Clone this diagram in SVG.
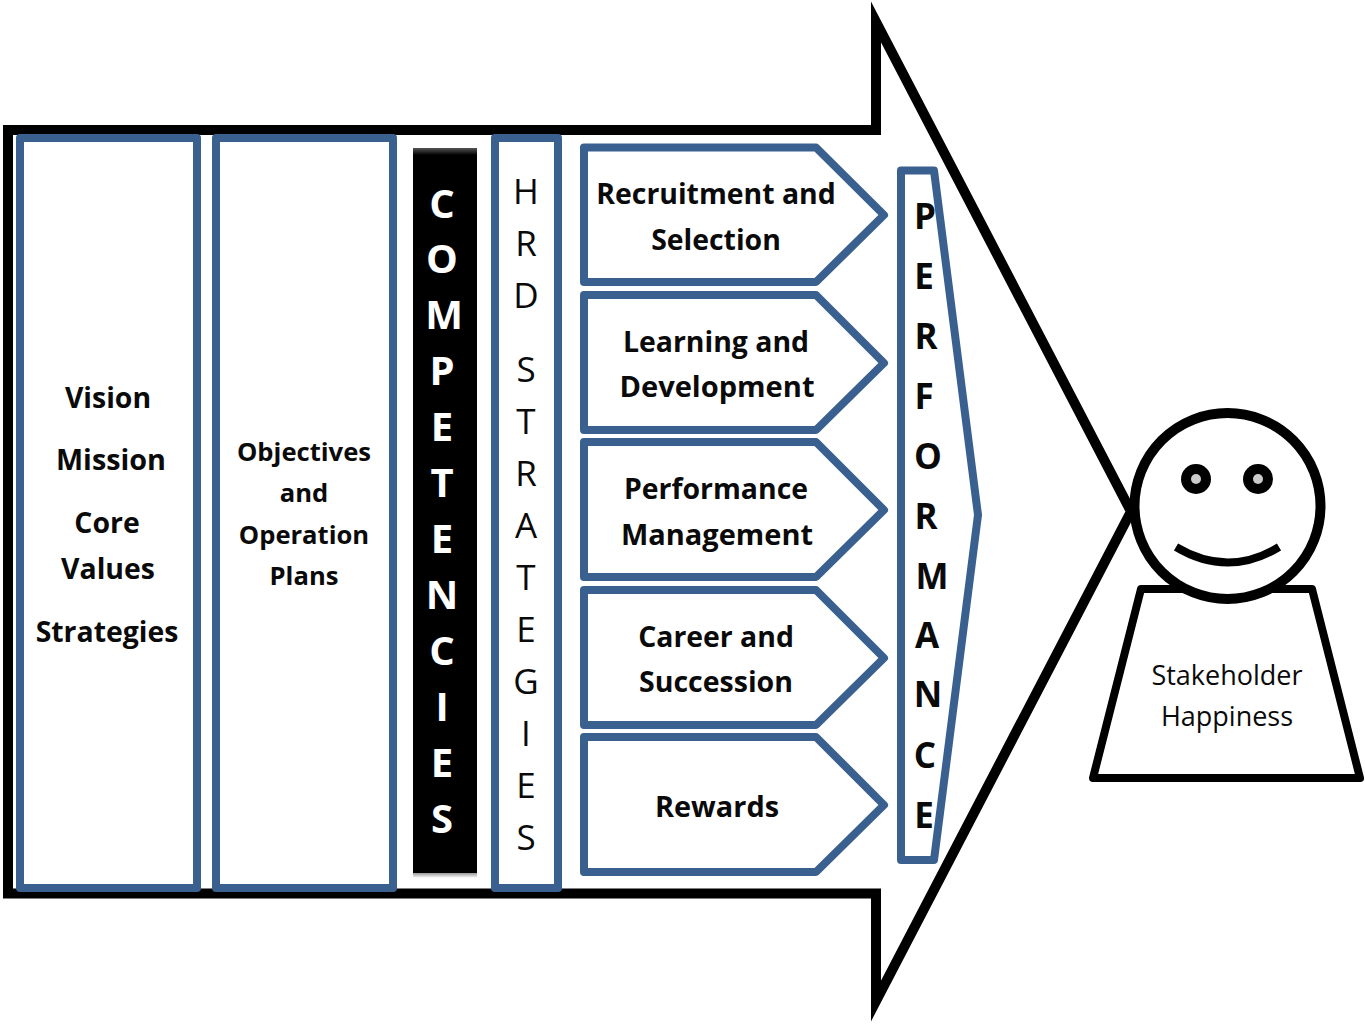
<svg xmlns="http://www.w3.org/2000/svg" width="1365" height="1024" viewBox="0 0 1365 1024">
<defs><linearGradient id="cap" x1="0" y1="0" x2="0" y2="1"><stop offset="0" stop-color="#555"/><stop offset="1" stop-color="#000"/></linearGradient>
<linearGradient id="shadow" x1="0" y1="0" x2="0" y2="1"><stop offset="0" stop-color="#999"/><stop offset="1" stop-color="#fff"/></linearGradient></defs>
<style>
.b{fill:#fff;stroke:#3a6090;stroke-width:8;stroke-linejoin:round}
text{font-family:"Open Sans","Liberation Sans",sans-serif;text-anchor:middle;fill:#0a0a0a}
.t{font-weight:700;font-size:28.4px}
.o{font-weight:700;font-size:25.6px}
.c{font-weight:700;font-size:40px;fill:#fff}
.h{font-size:35px}
.p{font-weight:700;font-size:35px}
</style>
<rect width="1365" height="1024" fill="#fff"/>
<g id="big-arrow"><path d="M8 130H876V22L1131 511.5L876 1001V893.5H8Z" fill="#fff" stroke="#000" stroke-width="10" stroke-miterlimit="10"/></g>
<g id="vision"><rect class="b" x="20" y="138" width="177" height="750"/>
<text class="t" x="108" y="408">Vision</text><text class="t" x="111" y="470" textLength="110" lengthAdjust="spacingAndGlyphs">Mission</text><text class="t" x="107" y="533">Core</text><text class="t" x="108" y="579">Values</text><text class="t" x="107" y="642">Strategies</text></g>
<g id="objectives"><rect class="b" x="216" y="138" width="177" height="750"/>
<text class="o" x="304" y="461">Objectives</text><text class="o" x="304" y="502">and</text><text class="o" x="304" y="544">Operation</text><text class="o" x="304" y="585">Plans</text></g>
<g id="competencies"><rect x="413" y="873" width="64" height="5" fill="url(#shadow)"/><rect x="413" y="148" width="64" height="725" fill="#000"/><rect x="413" y="148" width="64" height="7" fill="url(#cap)"/>
<text class="c" x="442" y="218">C</text><text class="c" x="442" y="273">O</text><text class="c" x="444" y="329">M</text><text class="c" x="442" y="385">P</text><text class="c" x="442" y="441">E</text><text class="c" x="442" y="497">T</text><text class="c" x="442" y="553">E</text><text class="c" x="442" y="609">N</text><text class="c" x="442" y="665">C</text><text class="c" x="442" y="721">I</text><text class="c" x="442" y="777">E</text><text class="c" x="442" y="833">S</text></g>
<g id="hrd"><rect class="b" x="495" y="138" width="63" height="750"/>
<text class="h" x="526" y="204">H</text><text class="h" x="526" y="256">R</text><text class="h" x="526" y="308">D</text><text class="h" x="526" y="382">S</text><text class="h" x="526" y="434">T</text><text class="h" x="526" y="486">R</text><text class="h" x="526" y="538">A</text><text class="h" x="526" y="590">T</text><text class="h" x="526" y="642">E</text><text class="h" x="526" y="694">G</text><text class="h" x="526" y="746">I</text><text class="h" x="526" y="798">E</text><text class="h" x="526" y="850">S</text></g>
<g id="recruitment"><path class="b" d="M584 147.500H816L884 215L816 282H584Z"/><text class="t" x="716" y="204">Recruitment and</text><text class="t" x="716" y="250">Selection</text></g>
<g id="learning"><path class="b" d="M584 295H816L884 363L816 430H584Z"/><text class="t" x="716" y="352">Learning and</text><text class="t" x="717" y="397" textLength="195" lengthAdjust="spacingAndGlyphs">Development</text></g>
<g id="performance-mgmt"><path class="b" d="M584 442H816L884 510L816 577H584Z"/><text class="t" x="716" y="499">Performance</text><text class="t" x="717" y="545" textLength="192" lengthAdjust="spacingAndGlyphs">Management</text></g>
<g id="career"><path class="b" d="M584 590H816L884 658L816 725H584Z"/><text class="t" x="716" y="647">Career and</text><text class="t" x="716" y="692" textLength="154" lengthAdjust="spacingAndGlyphs">Succession</text></g>
<g id="rewards"><path class="b" d="M584 737H816L884 805L816 872H584Z"/><text class="t" x="717" y="817" textLength="124" lengthAdjust="spacingAndGlyphs">Rewards</text></g>
<g id="performance"><path class="b" d="M901 170.500H934L978 515L934 860H901Z"/>
<text class="p" x="925" y="229">P</text><text class="p" x="924" y="289">E</text><text class="p" x="926" y="349">R</text><text class="p" x="924" y="409">F</text><text class="p" x="928" y="469">O</text><text class="p" x="926" y="529">R</text><text class="p" x="932" y="589">M</text><text class="p" x="927" y="648">A</text><text class="p" x="928" y="707">N</text><text class="p" x="925" y="768">C</text><text class="p" x="924" y="828">E</text></g>
<g id="stakeholder"><path d="M1141 589H1312L1360 778H1093Z" fill="#fff" stroke="#000" stroke-width="8" stroke-linejoin="round"/>
<circle cx="1227.500" cy="506" r="93" fill="#fff" stroke="#000" stroke-width="10"/>
<circle cx="1196" cy="479" r="15" fill="#000"/><circle cx="1196" cy="479" r="5" fill="#ccc"/><circle cx="1258" cy="479" r="15" fill="#000"/><circle cx="1258" cy="479" r="5" fill="#ccc"/>
<path d="M1176 547Q1228 578 1279 547" fill="none" stroke="#000" stroke-width="8"/>
<text x="1227" y="685" font-size="27">Stakeholder</text><text x="1227" y="726" font-size="27">Happiness</text></g>
</svg>
